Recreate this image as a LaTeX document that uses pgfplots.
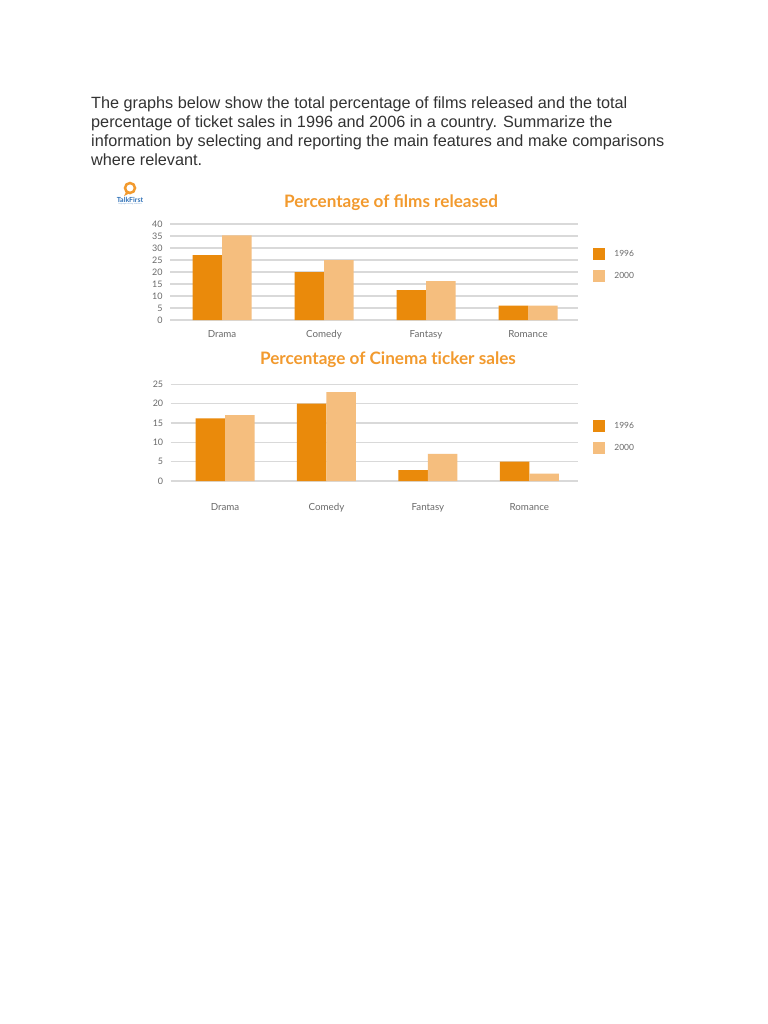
\documentclass[border=0pt]{standalone}
\usepackage{fontspec}
\setmainfont{Liberation Sans}
\newfontfamily\chartfont{Lato}
\usepackage{pgfplots}
\pgfplotsset{compat=1.18}
\definecolor{darkbar}{HTML}{EA8A0B}
\definecolor{lightbar}{HTML}{F5BE7E}
\definecolor{titleor}{HTML}{F29A2E}
\definecolor{gridc}{HTML}{D9D9D9}
\definecolor{lblc}{HTML}{6A6A6A}
\definecolor{txtc}{HTML}{333333}
\definecolor{logob}{HTML}{2C6FB7}
\pgfplotsset{
  mybars/.style={
    scale only axis,
    width=408bp,
    ybar=0pt,
    bar width=29.5bp,
    ymin=0,
    axis line style={draw=none},
    tick style={draw=none},
    ymajorgrids,
    grid style={gridc, line width=1.2bp},
    xtick={0,1,2,3},
    xticklabels={Drama,Comedy,Fantasy,Romance},
    xticklabel style={font=\chartfont\fontsize{9.8}{11}\selectfont, text=lblc},
    yticklabel style={font=\chartfont\fontsize{9}{10}\selectfont, text=lblc, xshift=-4bp},
    /pgf/number format/assume math mode=true,
    legend image code/.code={\fill[##1] (0bp,-6bp) rectangle (12bp,6bp);},
    legend style={draw=none, fill=none, font=\chartfont\fontsize{8.5}{10}\selectfont, text=lblc,
      anchor=north west, row sep=10bp,
      /tikz/every odd column/.append style={column sep=7bp}},
    legend cell align=left,
  }
}
\begin{document}
\begin{tikzpicture}
\path[fill=white] (0,0) rectangle (768bp,-1024bp);
% paragraph
\begin{scope}[every node/.style={anchor=base west, inner sep=0pt, text=txtc, font=\fontsize{16.3}{19}\selectfont}]
\node at (91bp,-108bp) {The graphs below show the total percentage of films released and the total};
\node at (91bp,-127bp) {percentage of ticket sales in 1996 and 2006 in a country. Summarize the};
\node at (91bp,-146bp) {information by selecting and reporting the main features and make comparisons};
\node at (91bp,-165bp) {where relevant.};
\end{scope}
% logo
\draw[titleor, line width=2.5bp] (130bp,-188bp) circle (5bp);
\fill[titleor] (126bp,-192bp) -- (124bp,-196bp) -- (130bp,-193bp) -- cycle;
\node[inner sep=0pt, text=logob, font=\chartfont\bfseries\fontsize{7}{8}\selectfont] at (130bp,-199.5bp) {TalkFirst};
\node[inner sep=0pt, text=logob!60, font=\chartfont\fontsize{2}{2}\selectfont] at (130bp,-204bp) {language training solutions};
% titles
\node[inner sep=0pt, text=titleor, font=\chartfont\bfseries\fontsize{17.2}{19}\selectfont] at (391bp,-203bp) {Percentage of films released};
\node[inner sep=0pt, text=titleor, font=\chartfont\bfseries\fontsize{17.2}{19}\selectfont] at (388bp,-360bp) {Percentage of Cinema t\kern0pt icker sales};

% top chart
\begin{axis}[mybars,
  at={(170bp,-320bp)}, anchor=south west,
  height=96bp, ymax=40, ytick={0,5,...,40},
  xmin=-0.51, xmax=3.49,
  legend style={at={(1.030,0.77)}},
  xticklabel style={yshift=-2.5bp},
]
\addplot[fill=darkbar, draw=none] coordinates {(0,27) (1,20) (2,12.4) (3,6)};
\addplot[fill=lightbar, draw=none] coordinates {(0,35.3) (1,25) (2,16.2) (3,6)};
\legend{1996,2000}
\end{axis}

% bottom chart
\begin{axis}[mybars,
  at={(170.7bp,-481bp)}, anchor=south west,
  width=407.3bp,
  height=96.7bp, ymax=25, ytick={0,5,...,25},
  xmin=-0.536, xmax=3.48,
  legend style={at={(1.030,0.655)}},
  xticklabel style={yshift=-14.5bp},
]
\addplot[fill=darkbar, draw=none] coordinates {(0,16.2) (1,20) (2,2.8) (3,5)};
\addplot[fill=lightbar, draw=none] coordinates {(0,17.05) (1,23) (2,7) (3,1.9)};
\legend{1996,2000}
\end{axis}
\end{tikzpicture}
\end{document}
